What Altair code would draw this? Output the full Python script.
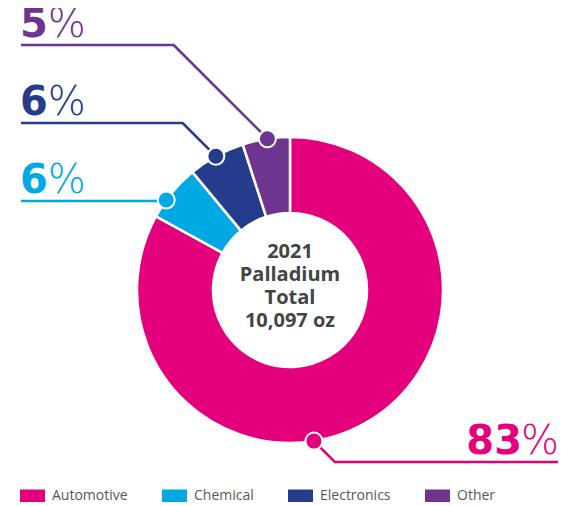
import math

import altair as alt
import pandas as pd

# ---- data ----
categories = ["Automotive", "Chemical", "Electronics", "Other"]
shares = [83, 6, 6, 5]
colors = ["#E4007D", "#00A9E4", "#253B8C", "#6D3590"]
center_lines = ["2021", "Palladium", "Total", "10,097 oz"]

# ---- layout (chart pixels, page minus 8px margin) ----
W, H = 564, 498
CX, CY = 282, 282
R_IN, R_OUT = 77, 153
anchor_deg = [171, 306, 331, 351.5]   # where each callout touches the ring
line_y = [454, 193, 115, 37]          # horizontal part of each callout
line_end_x = [550, 13, 13, 13]
NUM_SIZE = 40
DIGIT_W = 27.8
PCT_W = 37
CENTER_TOP = CY - 38
CENTER_STEP = 23

donut = pd.DataFrame({
    "category": categories,
    "share": shares,
    "order": range(len(categories)),
})

lines, dots, labels = [], [], []
for cat, s, col, a, ly, ex in zip(categories, shares, colors, anchor_deg, line_y, line_end_x):
    ax = CX + R_OUT * math.sin(math.radians(a))
    ay = CY - R_OUT * math.cos(math.radians(a))
    sign = 1 if ex > ax else -1
    elbow_x = ax + sign * abs(ly - ay)
    for i, (px, py) in enumerate([(ax, ay), (elbow_x, ly), (ex, ly)]):
        lines.append({"category": cat, "seq": i, "x": px, "y": py, "hex": col})
    dots.append({"category": cat, "x": ax, "y": ay, "hex": col})
    n = str(s)
    if ex > ax:  # label on the right of the ring: right aligned
        labels.append({"num": n, "side": "right", "y": ly - 8, "hex": col,
                       "nx": ex + 1 - PCT_W, "px": ex + 1})
    else:
        labels.append({"num": n, "side": "left", "y": ly - 8, "hex": col,
                       "nx": ex - 1, "px": ex - 1 + len(n) * DIGIT_W})

lines = pd.DataFrame(lines)
dots = pd.DataFrame(dots)
labels = pd.DataFrame(labels)
labels["pct"] = "%"
center_df = pd.DataFrame({
    "t": center_lines,
    "y": [CENTER_TOP + i * CENTER_STEP for i in range(len(center_lines))],
})

px_y = alt.Y("y:Q", scale=None, axis=None)
hex_color = alt.Color("hex:N", scale=None)

ring = alt.Chart(donut).mark_arc(
    innerRadius=R_IN, outerRadius=R_OUT, stroke="white", strokeWidth=2.5
).encode(
    theta=alt.Theta("share:Q", stack=True),
    order=alt.Order("order:Q"),
    color=alt.Color(
        "category:N",
        scale=alt.Scale(domain=categories, range=colors),
        legend=alt.Legend(
            title=None,
            orient="none",
            direction="horizontal",
            legendX=12,
            legendY=475,
            symbolType="M-1,-0.5H1V0.5H-1Z",
            symbolSize=625,
            symbolStrokeWidth=0,
            symbolOpacity=1,
            labelFont="Open Sans",
            labelFontSize=14,
            labelColor="#595959",
            labelOffset=7,
            columnPadding=34,
        ),
    ),
    x=alt.value(CX),
    y=alt.value(CY),
)

leaders = alt.Chart(lines).mark_line(strokeWidth=2.5).encode(
    x=alt.X("x:Q", scale=None, axis=None), y=px_y,
    color=hex_color, detail="category:N", order="seq:Q",
)

knobs = alt.Chart(dots).mark_point(
    filled=True, size=289, shape="circle", opacity=1, stroke="white", strokeWidth=2
).encode(x=alt.X("x:Q", scale=None, axis=None), y=px_y, fill=alt.Fill("hex:N", scale=None))

label_layers = []
for side in ["left", "right"]:
    base = alt.Chart(labels).transform_filter(alt.datum.side == side)
    label_layers.append(base.mark_text(
        font="DejaVu Sans", fontSize=NUM_SIZE, fontWeight="bold",
        baseline="alphabetic", align=side,
    ).encode(x=alt.X("nx:Q", scale=None, axis=None), y=px_y, text="num:N", color=hex_color))
    label_layers.append(base.mark_text(
        font="DejaVu Sans", fontSize=NUM_SIZE, fontWeight=200,
        baseline="alphabetic", align=side,
    ).encode(x=alt.X("px:Q", scale=None, axis=None), y=px_y, text="pct:N", color=hex_color))

center = alt.Chart(center_df).mark_text(
    font="Open Sans", fontSize=20, fontWeight="bold", color="#444444",
    align="center", baseline="middle",
).encode(text="t:N", x=alt.value(CX), y=px_y)

chart = alt.layer(ring, leaders, knobs, *label_layers, center).properties(
    width=W, height=H, padding=0, autosize=alt.AutoSizeParams(type="none"),
).configure_view(stroke=None)

chart.save("out.html", embed_options={"renderer": "svg", "actions": False})
